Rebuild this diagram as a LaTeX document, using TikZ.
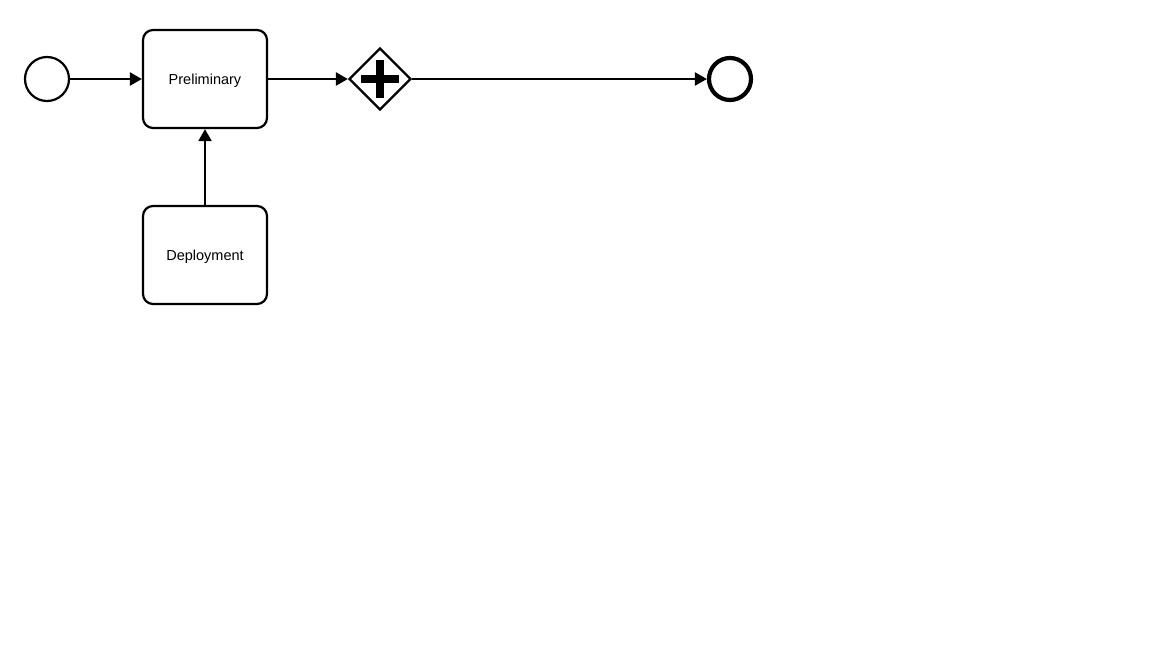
\documentclass[tikz,border=0pt]{standalone}
\usepackage{fontspec}
\setmainfont{Liberation Sans}
\usetikzlibrary{shapes.geometric,arrows.meta}

\begin{document}
\begin{tikzpicture}[x=1pt, y=-1pt]
		\tikzstyle{every node} = [line width=2.2pt, draw=black, inner sep=0pt, font=\fontsize{14.5}{17}\selectfont]
		\tikzstyle{task} = [rectangle, rounded corners=10pt, minimum width=124pt, minimum height=98pt, text height=10.5pt, text depth=0pt]
		\tikzstyle{flow} = [line width=2.2pt, -{Triangle[length=12pt, width=13pt]}]
		\useasboundingbox (0, 0) rectangle (1152, 648);
		\node (start) [circle, minimum size=44pt] at (47, 79) {};
		\node (prelim) [task] at (205, 79) {Preliminary};
		\node (deploy) [task] at (205, 255) {Deployment};
		\node (join) [diamond, aspect=1, minimum size=62pt] at (380, 79) {};
		\node (end) [circle, line width=4.2pt, minimum size=42pt] at (730, 79) {};
		\draw [line width=8pt] (join.center) ++(-19, 0) -- ++(38, 0);
		\draw [line width=8pt] (join.center) ++(0, -19) -- ++(0, 38);
		\draw [flow] (start) -- (prelim);
		\draw [flow] (prelim) -- (join);
		\draw [flow] (join) -- (end);
		\draw [flow] (deploy) -- (prelim);
	\end{tikzpicture}
\end{document}
